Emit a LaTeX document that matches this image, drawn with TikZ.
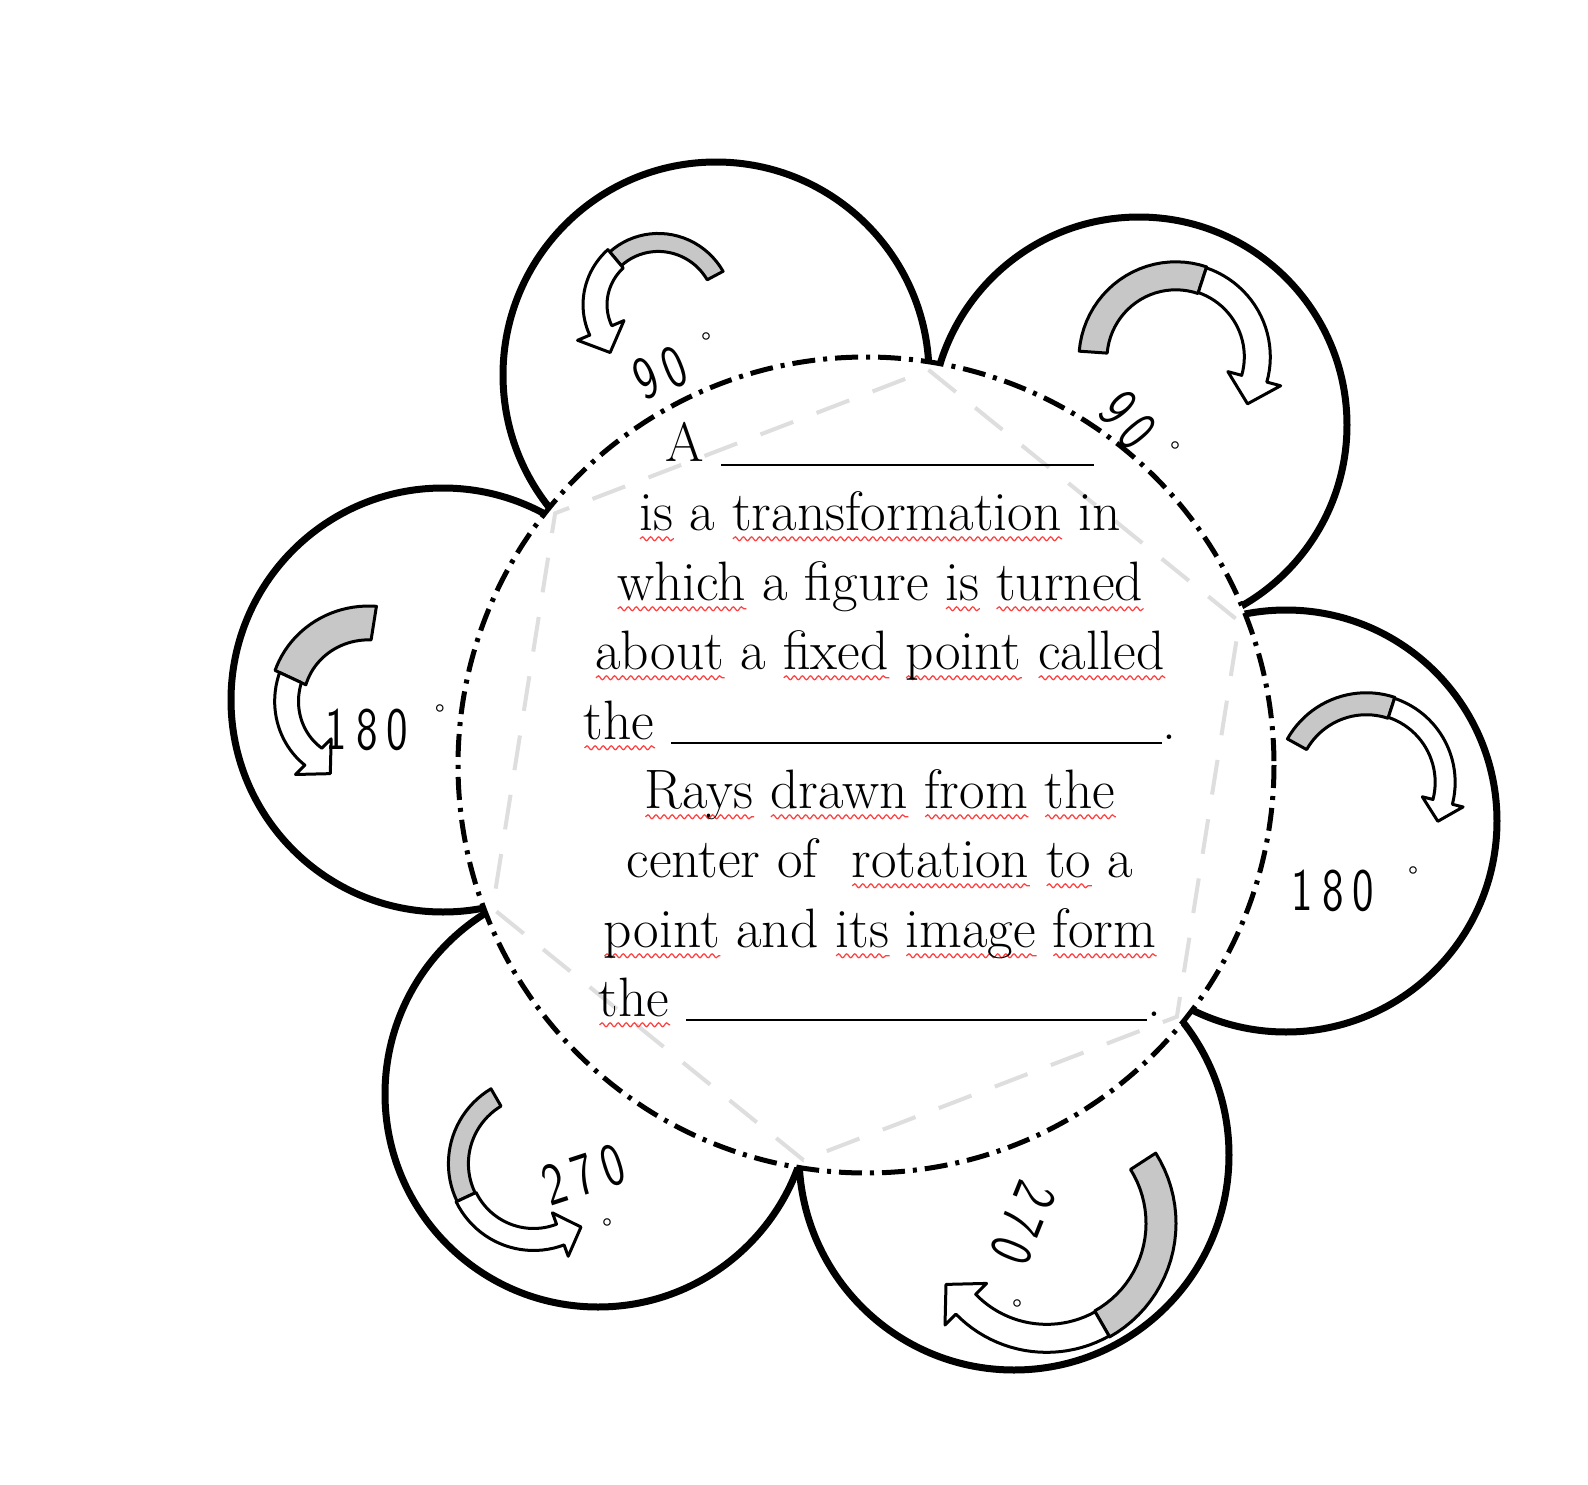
\documentclass[tikz,border=0pt]{standalone}
\usepackage{fontspec}
\usetikzlibrary{calc,decorations.pathmorphing}
\newfontfamily\numfont{lmsans10-regular.otf}[FakeStretch=0.72,LetterSpace=15]

% red wavy line under a word
\newsavebox\sqbox
\newlength\sqwd
\newcommand{\sq}[1]{\sbox\sqbox{#1}\setlength\sqwd{\wd\sqbox}\rlap{\tikz[baseline=0pt]\draw[wavy] (0pt,-2.5pt) -- (\sqwd,-2.5pt);}\usebox\sqbox}

% curved ribbon arrow: cx, cy, r tail, r head, tail angle, switch angle, head angle, tail width, head width
\newcommand{\twistarrow}[9]{%
  \pgfmathsetmacro\tipsgn{2*((#7)>(#5))-1}
  \pgfmathsetmacro\headx{#1+(#4)*cos(#7)}
  \pgfmathsetmacro\heady{#2+(#4)*sin(#7)}
  \begin{scope}[declare function={bandr(\t)=(#3)+((#4)-(#3))*(\t-(#5))/((#7)-(#5));}]
    \filldraw[tailband]
      plot[domain=#5:#6, samples=24] ({#1+(bandr(\x)+(#8)/2)*cos(\x)}, {#2+(bandr(\x)+(#8)/2)*sin(\x)})
      -- plot[domain=#6:#5, samples=24] ({#1+(bandr(\x)-(#8)/2)*cos(\x)}, {#2+(bandr(\x)-(#8)/2)*sin(\x)})
      -- cycle;
    \filldraw[headband]
      plot[domain=#6:#7, samples=24] ({#1+(bandr(\x)+(#9)/2)*cos(\x)}, {#2+(bandr(\x)+(#9)/2)*sin(\x)})
      -- ({\headx+1.05*(#9)*cos(#7)}, {\heady+1.05*(#9)*sin(#7)})
      -- ({\headx-\tipsgn*(#9)*sin(#7)}, {\heady+\tipsgn*(#9)*cos(#7)})
      -- ({\headx-1.05*(#9)*cos(#7)}, {\heady-1.05*(#9)*sin(#7)})
      -- plot[domain=#7:#6, samples=24] ({#1+(bandr(\x)-(#9)/2)*cos(\x)}, {#2+(bandr(\x)-(#9)/2)*sin(\x)})
      -- cycle;
  \end{scope}
}

\tikzset{
  petal/.style={line width=0.7mm},
  hub/.style={line width=0.5mm, dash pattern=on 2.3mm off 0.8mm on 0.4mm off 0.8mm},
  hexline/.style={black!13, line width=0.4mm, dash pattern=on 3.5mm off 2.5mm},
  tailband/.style={fill=black!22, draw=black, line width=0.3mm, line join=round},
  headband/.style={fill=white, draw=black, line width=0.3mm, line join=round},
  wavy/.style={red!75, line width=0.35pt, decorate, decoration={snake, amplitude=0.55pt, segment length=2.3pt}},
  blurb/.style={font=\fontsize{15.8}{19}\selectfont, inner sep=0pt, anchor=base},
  deg/.style={font=\numfont\fontsize{17}{20}\selectfont, inner sep=0pt},
  degsign/.style={font=\fontsize{7}{8}\selectfont, inner sep=0pt}
}

\begin{document}
\begin{tikzpicture}[x=0.1mm, y=-0.1mm]
	\useasboundingbox (0,0) rectangle (1588,1485);
	\coordinate (hub) at (866,765);

	%petals
		\foreach \px/\py/\pr in {716/375/213, 1139/425/208, 1286/821/211, 1014/1155/215, 598/1094/213, 443/700/212}{
			\draw[petal] (\px,\py) circle (\pr);
		}
		\fill[white] (hub) circle (408);

	%middle
		\draw[hexline] ($(hub)+(-81:400)$) foreach \a in {-21,39,...,219}{ -- ($(hub)+(\a:400)$) } -- cycle;
		\draw[hub] (hub) circle (408);

	%arrows
		\twistarrow{656}{307}{67}{60}{-28}{-130}{-203}{18}{24}
		\twistarrow{1177}{358}{84}{80}{-176}{-72}{15}{28}{26}
		\twistarrow{360}{710}{88}{66}{-81}{-155}{-225}{34}{24}
		\twistarrow{1367}{783}{80}{78}{-151}{-72}{14}{22}{20}
		\twistarrow{535}{1165}{78}{74}{-120}{-205}{-290}{20}{22}
		\twistarrow{1045}{1225}{117}{112}{-33}{60}{135}{30}{28}

	%angles
		\node[rotate=22, deg] (n1) at (660,373){90};
		\node[rotate=-50, deg] (n2) at (1128,420){90};
		\node[deg] (n3) at (367,730){180};
		\node[deg] (n4) at (1333,891){180};
		\node[rotate=18, deg] (n5) at (584,1175){270};
		\node[rotate=-112, deg] (n6) at (1023,1223){270};
		\node[degsign] (d1) at (706,341){°};
		\node[degsign] (d2) at (1175,450){°};
		\node[degsign] (d3) at (440,713){°};
		\node[degsign] (d4) at (1413,875){°};
		\node[degsign] (d5) at (607,1227){°};
		\node[degsign] (d6) at (1017,1308){°};

	%text
		\node[blurb] (l1) at (880,461){A \rule[-0.5mm]{37.3mm}{0.25mm}};
		\node[blurb] (l2) at (880,530){\sq{is} a \sq{transformation} in};
		\node[blurb] (l3) at (880,600){\sq{which} a figure \sq{is} \sq{turned}};
		\node[blurb] (l4) at (880,669){\sq{about} a \sq{fixed} \sq{point} \sq{called}};
		\node[blurb] (l5) at (880,739){\sq{the} \rule[-0.5mm]{49.1mm}{0.25mm}.};
		\node[blurb] (l6) at (880,808){\sq{Rays} \sq{drawn} \sq{from} \sq{the}};
		\node[blurb] (l7) at (880,877){center of~ \sq{rotation} \sq{to} a};
		\node[blurb] (l8) at (880,947){\sq{point} and \sq{its} \sq{image} \sq{form}};
		\node[blurb] (l9) at (880,1016){\sq{the} \rule[-0.5mm]{46.1mm}{0.25mm}.};
\end{tikzpicture}
\end{document}
